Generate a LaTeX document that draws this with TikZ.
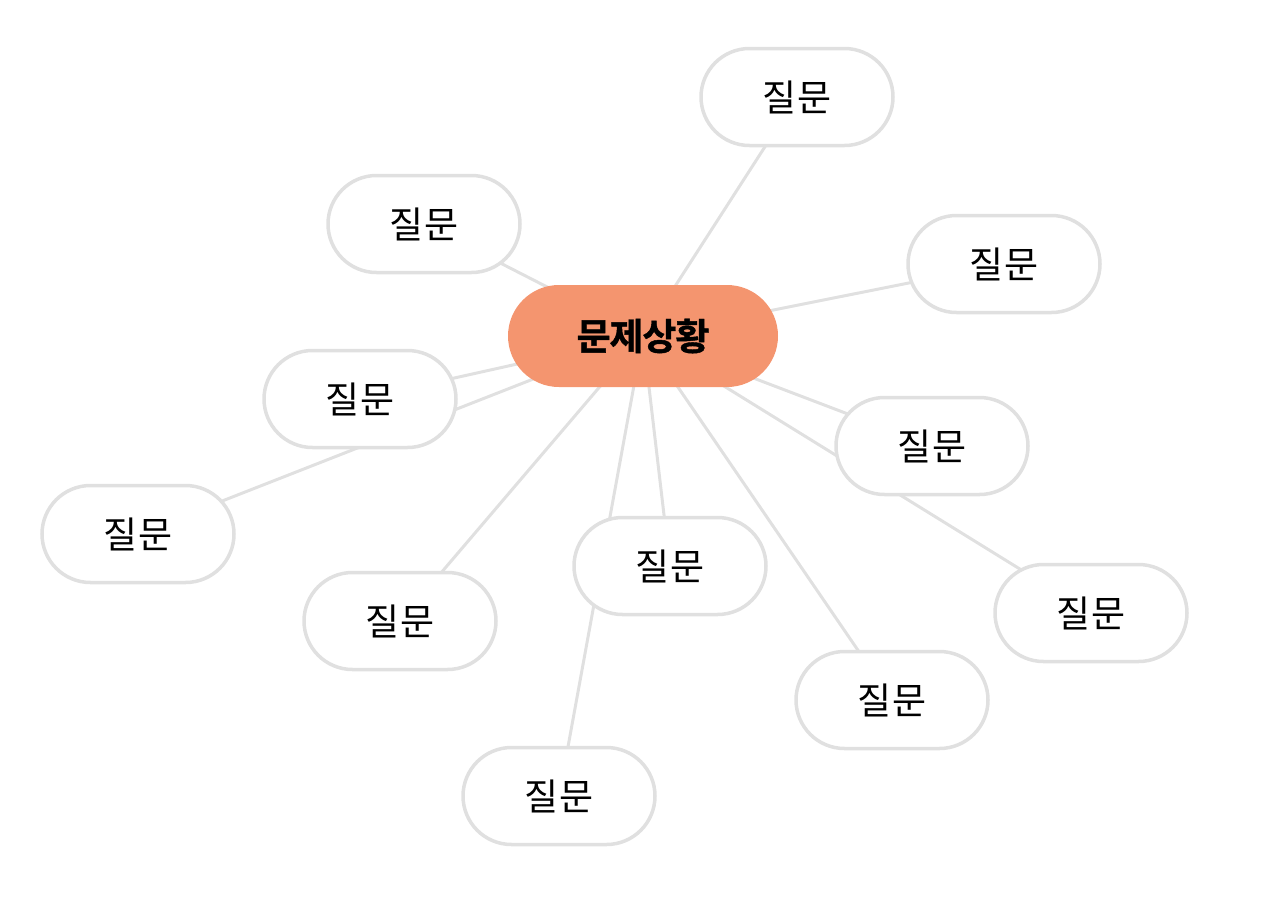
\documentclass[tikz,border=0pt]{standalone}
\usepackage{fontspec}
\newfontfamily\kr{Noto Sans CJK KR}
\newfontfamily\krb[FakeBold=1.2]{Noto Sans CJK KR Bold}
\usetikzlibrary{backgrounds,shapes.misc}
\definecolor{linegray}{HTML}{E0E0E0}
\definecolor{hub}{HTML}{F4956F}
\tikzset{
  q/.style={rounded rectangle, draw=linegray, line width=3.5pt, fill=white,
    minimum width=192pt, minimum height=97pt, inner sep=0pt,
    font=\kr\fontsize{37}{42}\selectfont},
  hubnode/.style={rounded rectangle, fill=hub, draw=none,
    minimum width=270pt, minimum height=102pt, inner sep=0pt,
    font=\krb\fontsize{37}{42}\selectfont},
  link/.style={draw=linegray, line width=3pt}
}
\begin{document}
\begin{tikzpicture}[x=1pt,y=-1pt]
\useasboundingbox (0,0) rectangle (1280,906);
\node[hubnode] (c) at (643,336) {\addfontfeature{LetterSpace=-3}문제상황};
\node[q] (n1) at (797,97) {질문};
\node[q] (n2) at (424,224) {질문};
\node[q] (n3) at (1004,264) {질문};
\node[q] (n4) at (360,399) {질문};
\node[q] (n5) at (932,446) {질문};
\node[q] (n6) at (138,534) {질문};
\node[q] (n7) at (400,621) {질문};
\node[q] (n8) at (670,566) {질문};
\node[q] (n9) at (1091,613) {질문};
\node[q] (n10) at (892,700) {질문};
\node[q] (n11) at (559,796) {질문};
\begin{scope}[on background layer]
\foreach \n in {n1,n2,n3,n4,n5,n6,n7,n8,n9,n10,n11}
  \draw[link] (c.center) -- (\n.center);
\end{scope}
\end{tikzpicture}
\end{document}
